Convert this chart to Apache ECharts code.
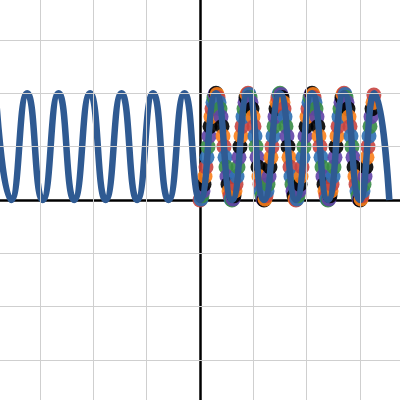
<!DOCTYPE html>
<html><head><meta charset="utf-8">
<script src="https://cdn.jsdelivr.net/npm/echarts@6/dist/echarts.min.js"></script>
<style>html,body{margin:0;padding:0;background:#fff}#c{width:400px;height:400px}</style>
</head><body><div id="c"></div>
<script>
// extrema of the curve (x, y)
const curveX = [-3.83,-3.54,-3.24,-2.95,-2.65,-2.36,-2.06,-1.77,-1.47,-1.18,-0.88,-0.59,-0.29,0,0.3,0.6,0.9,1.2,1.5,1.8,2.1,2.4,2.7,3.0,3.27,3.55];
const curveY = [2,0,2,0,2,0,2,0,2,0,2,0,2,0,2,0,2,0,2,0,2,0,2,0,2,0];
// dot samples over one period (x offset within period, y)
const dotOffsetX = [0,0.019,0.0375,0.056,0.075,0.094,0.1125,0.131,0.15,0.169,0.1875,0.206,0.225,0.244,0.2625,0.281,
                    0.3,0.319,0.3375,0.356,0.375,0.394,0.4125,0.431,0.45,0.469,0.4875,0.506,0.525,0.544,0.5625,0.581];
const dotY = [0,0.02,0.08,0.17,0.29,0.44,0.62,0.8,1,1.2,1.38,1.56,1.71,1.83,1.92,1.98,
              2,1.98,1.92,1.83,1.71,1.56,1.38,1.2,1,0.8,0.62,0.44,0.29,0.17,0.08,0.02];
const dotPeriods = [0,0.6,1.2,1.8,2.4];
const dotTailX = [3.0,3.019,3.0375,3.056,3.075,3.094,3.1125,3.131,3.15,3.169,3.1875,3.206,3.225,3.244,3.26];
const dotTailY = [0,0.02,0.08,0.17,0.29,0.44,0.62,0.8,1,1.2,1.38,1.56,1.71,1.83,1.97];
const dotColors = ['#c74440','#2d70b3','#388c46','#6042a6','#000000','#fa7e19'];
const gridTicks = [-3,-2,-1,1,2,3];

const line = curveX.map((x,i)=>[x,curveY[i]]);
const dots = [];
dotPeriods.forEach(p=>dotOffsetX.forEach((o,i)=>dots.push([p+o,dotY[i]])));
dotTailX.forEach((x,i)=>dots.push([x,dotTailY[i]]));
const dotData = dots.map((d,i)=>({value:d,itemStyle:{color:dotColors[i%dotColors.length],opacity:0.9}}));

const chart = echarts.init(document.getElementById('c'));
chart.setOption({
  animation:false,
  grid:{left:0,top:0,right:0,bottom:0,show:false},
  xAxis:{type:'value',min:-3.75,max:3.75,
    axisLine:{onZero:true,lineStyle:{color:'#000',width:2.5}},axisTick:{show:false},axisLabel:{show:false},
    splitLine:{show:false}},
  yAxis:{type:'value',min:-3.75,max:3.75,
    axisLine:{onZero:true,lineStyle:{color:'#000',width:2.5}},axisTick:{show:false},axisLabel:{show:false},
    splitLine:{show:false}},
  series:[
    {type:'line',data:[],z:1,markLine:{silent:true,symbol:'none',label:{show:false},
      lineStyle:{color:'#cfcfcf',width:1,type:'solid'},
      data:gridTicks.map(v=>({xAxis:v})).concat(gridTicks.map(v=>({yAxis:v})))}},
    {type:'scatter',data:dotData,symbolSize:15,z:3},
    {type:'line',data:line,smooth:0.55,smoothMonotone:'x',showSymbol:false,
     lineStyle:{color:'#2f5a92',width:6.5},z:4}
  ]
});
</script></body></html>
